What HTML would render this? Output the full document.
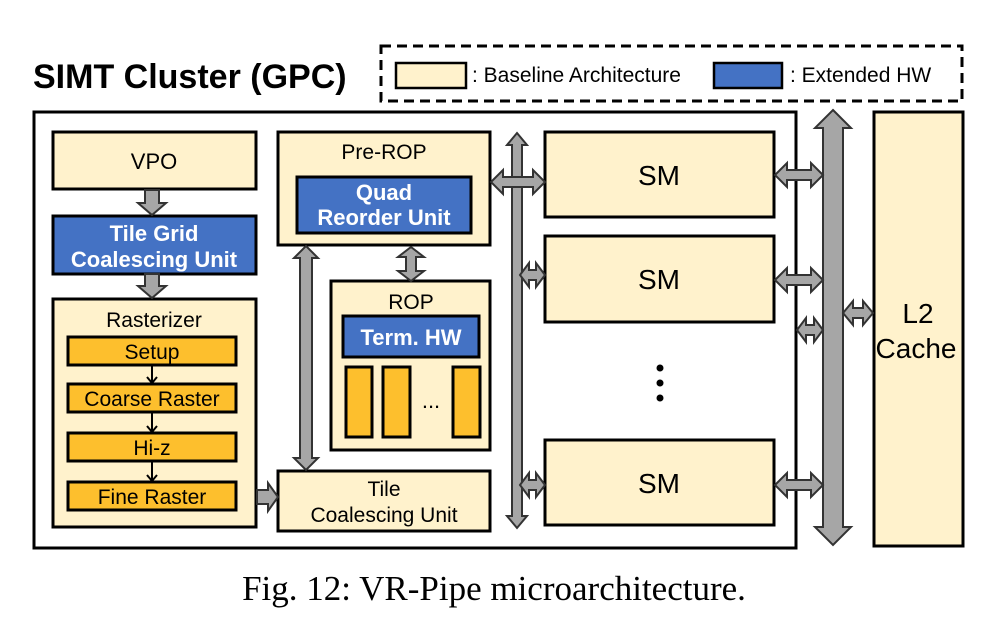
<!DOCTYPE html>
<html><head><meta charset="utf-8"><style>
html,body{margin:0;padding:0;background:#fff;}
svg{display:block;}
text{font-family:"Liberation Sans",Arial,sans-serif;}
</style></head><body>
<svg width="1004" height="626" viewBox="0 0 1004 626" xmlns="http://www.w3.org/2000/svg">
<text x="33" y="88" font-size="34" font-weight="bold" fill="#000">SIMT Cluster (GPC)</text>
<rect x="381" y="46" width="581" height="55" fill="none" stroke="#000" stroke-width="3" stroke-dasharray="10,6"/>
<rect x="396" y="63" width="70" height="25" fill="#fff2cc" stroke="#000" stroke-width="2.5"/>
<text x="472" y="82" font-size="21">: Baseline Architecture</text>
<rect x="714" y="63" width="68" height="25" fill="#4472c4" stroke="#000" stroke-width="2.5"/>
<text x="790" y="82" font-size="21">: Extended HW</text>

<rect x="34" y="112" width="762" height="436" fill="none" stroke="#000" stroke-width="3"/>

<g stroke="#000" stroke-width="3">
<rect x="53" y="132" width="203" height="57" fill="#fff2cc"/>
<rect x="53" y="216" width="203" height="58" fill="#4472c4"/>
<rect x="53" y="299" width="203" height="228" fill="#fff2cc"/>
<rect x="68" y="337" width="168" height="28" fill="#fdbf2d"/>
<rect x="68" y="384" width="168" height="28" fill="#fdbf2d"/>
<rect x="68" y="433" width="168" height="28" fill="#fdbf2d"/>
<rect x="68" y="482" width="168" height="28" fill="#fdbf2d"/>
<rect x="278" y="132" width="212" height="113" fill="#fff2cc"/>
<rect x="297" y="177" width="174" height="56" fill="#4472c4"/>
<rect x="331" y="281" width="159" height="169" fill="#fff2cc"/>
<rect x="343" y="316" width="136" height="41" fill="#4472c4"/>
<rect x="346" y="367" width="26" height="70" fill="#fdbf2d"/>
<rect x="383" y="367" width="27" height="70" fill="#fdbf2d"/>
<rect x="453" y="367" width="27" height="70" fill="#fdbf2d"/>
<rect x="278" y="471" width="212" height="60" fill="#fff2cc"/>
<rect x="545" y="132" width="229" height="85" fill="#fff2cc"/>
<rect x="545" y="236" width="229" height="86" fill="#fff2cc"/>
<rect x="545" y="440" width="229" height="85" fill="#fff2cc"/>
<rect x="874" y="112" width="89" height="434" fill="#fff2cc"/>
</g>

<g fill="#a6a6a6" stroke="#333" stroke-width="2" stroke-linejoin="miter">
<polygon points="517,133 527,145 522,145 522,516 527,516 517,528 507,516 512,516 512,145 507,145"/>
<polygon points="833,110 851,128 843,128 843,527 851,527 833,545 815,527 823,527 823,128 815,128"/>
<polygon points="306,246 318,258 312,258 312,458 318,458 306,470 294,458 300,458 300,258 294,258"/>
<polygon points="411,247 424,257 416,257 416,271 424,271 411,281 398,271 406,271 406,257 398,257"/>
<polygon points="491,182 503,170 503,177 533,177 533,170 545,182 533,194 533,187 503,187 503,194"/>
<polygon points="520,275 529,263 529,270 536,270 536,263 545,275 536,287 536,280 529,280 529,287"/>
<polygon points="520,485 529,473 529,480 536,480 536,473 545,485 536,497 536,490 529,490 529,497"/>
<polygon points="775,175 787,163 787,170 811,170 811,163 823,175 811,187 811,180 787,180 787,187"/>
<polygon points="775,280 787,268 787,275 811,275 811,268 823,280 811,292 811,285 787,285 787,292"/>
<polygon points="775,485 787,473 787,480 811,480 811,473 823,485 811,497 811,490 787,490 787,497"/>
<polygon points="797,330 806,318 806,325 814,325 814,318 823,330 814,342 814,335 806,335 806,342"/>
<polygon points="843,313 853,301 853,308 863,308 863,301 873,313 863,325 863,318 853,318 853,325"/>
<polygon points="145,190 159,190 159,203 166,203 152,215 138,203 145,203"/>
<polygon points="145,274 159,274 159,286 166,286 152,298 138,286 145,286"/>
<polygon points="257,490 268,490 268,483 278,497 268,511 268,504 257,504"/>
</g>
<g stroke="#000" stroke-width="2" fill="none">
<line x1="152" y1="366" x2="152" y2="383"/><polyline points="147,377 152,383 157,377"/>
<line x1="152" y1="413" x2="152" y2="432"/><polyline points="147,426 152,432 157,426"/>
<line x1="152" y1="462" x2="152" y2="481"/><polyline points="147,475 152,481 157,475"/>
</g>

<g font-size="22" text-anchor="middle">
<text x="154" y="169">VPO</text>
<text x="154" y="241" fill="#fff" font-weight="bold">Tile Grid</text>
<text x="154" y="267" fill="#fff" font-weight="bold">Coalescing Unit</text>
<text x="154" y="327" font-size="21">Rasterizer</text>
<text x="152" y="359" font-size="21">Setup</text>
<text x="152" y="406" font-size="21">Coarse Raster</text>
<text x="152" y="455" font-size="21">Hi-z</text>
<text x="152" y="504" font-size="21">Fine Raster</text>
<text x="384" y="159" font-size="21">Pre-ROP</text>
<text x="384" y="200" fill="#fff" font-weight="bold">Quad</text>
<text x="384" y="225" fill="#fff" font-weight="bold">Reorder Unit</text>
<text x="411" y="309" font-size="21">ROP</text>
<text x="411" y="345" fill="#fff" font-weight="bold">Term. HW</text>
<text x="431" y="408">...</text>
<text x="384" y="496" font-size="21">Tile</text>
<text x="384" y="522" font-size="21">Coalescing Unit</text>
<text x="659" y="185" font-size="28">SM</text>
<text x="659" y="289" font-size="28">SM</text>
<text x="659" y="493" font-size="28">SM</text>
<text x="918" y="323" font-size="28">L2</text>
<text x="916" y="358" font-size="28">Cache</text>
</g>
<g fill="#000"><circle cx="660" cy="368" r="3.5"/><circle cx="660" cy="383" r="3.5"/><circle cx="660" cy="398" r="3.5"/></g>
<text x="494" y="600" font-size="35" text-anchor="middle" style="font-family:'Liberation Serif',serif">Fig. 12: VR-Pipe microarchitecture.</text>
</svg>
</body></html>
